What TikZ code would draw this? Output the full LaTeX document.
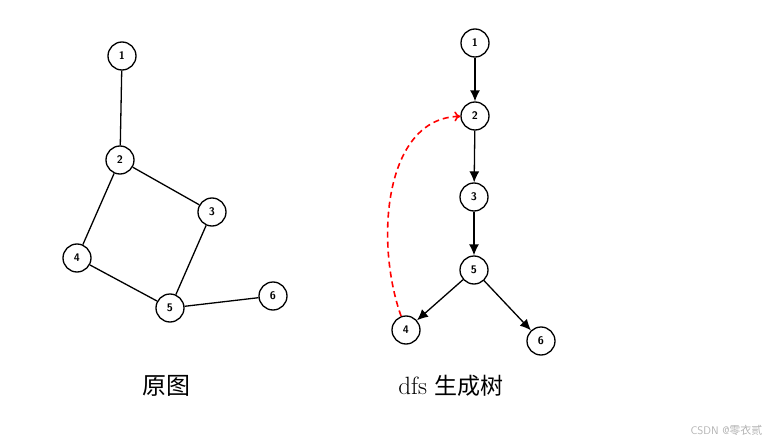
\documentclass[tikz,border=0pt]{standalone}
\usepackage{fontspec}
\newfontfamily\cjk{Noto Sans CJK SC}
\usetikzlibrary{arrows.meta}
\tikzset{
  vertex/.style={circle, draw, line width=1.3pt, minimum size=28pt, inner sep=0pt, font=\sffamily\bfseries\fontsize{11}{12}\selectfont},
  treearrow/.style={line width=1.3pt, -{Latex[length=11pt,width=10pt]}},
  backedge/.style={red, line width=1.6pt, dash pattern=on 6pt off 4pt, -{To[length=6pt,width=10pt]}}
}

\begin{document}
\begin{tikzpicture}[x=1pt,y=-1pt]
\useasboundingbox (0,0) rectangle (772,447);
% original graph
\node[vertex] (a1) at (122,56){1};
\node[vertex] (a2) at (120,160){2};
\node[vertex] (a3) at (212,212){3};
\node[vertex] (a4) at (77,258){4};
\node[vertex] (a5) at (170,308){5};
\node[vertex] (a6) at (273,296){6};
\foreach \from/\to in {1/2,2/3,2/4,3/5,4/5,5/6}
\draw[line width=1.3pt] (a\from) -- (a\to);
% dfs tree
\node[vertex] (b1) at (475,43){1};
\node[vertex] (b2) at (475,116){2};
\node[vertex] (b3) at (474,197){3};
\node[vertex] (b5) at (474,270){5};
\node[vertex] (b4) at (406,330){4};
\node[vertex] (b6) at (541,341){6};
\foreach \from/\to in {1/2,2/3,3/5,5/4,5/6}
\draw[treearrow] (b\from) -- (b\to);
\draw[backedge] (b4) .. controls (374,240) and (385,118) .. (b2);
% captions
\node (cap1) at (166,386){\fontsize{24}{28}\selectfont\cjk 原图};
\node (cap2) at (451,386){\fontsize{25}{28}\selectfont dfs {\fontsize{23}{28}\selectfont\cjk 生成树}};
\node[gray!60, anchor=east] (mark) at (766,430){\fontsize{11}{13}\selectfont\sffamily CSDN @{\cjk 零衣贰}};
\end{tikzpicture}
\end{document}
